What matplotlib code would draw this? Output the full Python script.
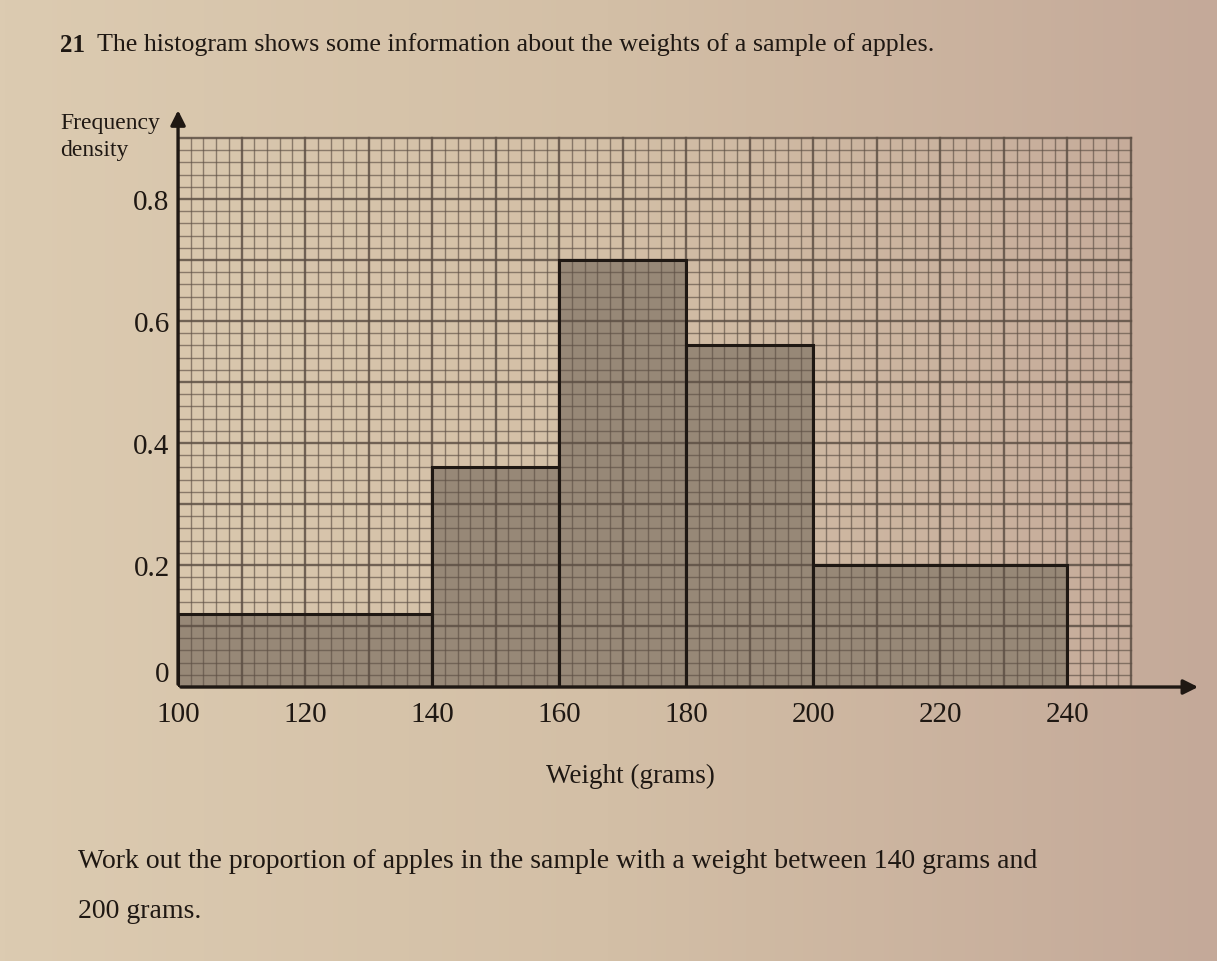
import matplotlib.pyplot as plt
import numpy as np
from matplotlib.colors import LinearSegmentedColormap

plt.rcParams["font.family"] = ["Liberation Serif", "DejaVu Serif"]

# histogram data: class boundaries (grams) and frequency density
bin_edges = [100, 140, 160, 180, 200, 240]
freq_density = [0.12, 0.36, 0.70, 0.56, 0.20]

x_ticks = [100, 120, 140, 160, 180, 200, 220, 240]
y_ticks = [0, 0.2, 0.4, 0.6, 0.8]
y_tick_labels = ["0", "0.2", "0.4", "0.6", "0.8"]

question = "The histogram shows some information about the weights of a sample of apples."
task_line1 = "Work out the proportion of apples in the sample with a weight between 140 grams and"
task_line2 = "200 grams."

ink = "#1f1813"

fig = plt.figure(figsize=(12.17, 9.62), dpi=100)

# paper background
bg = fig.add_axes([0, 0, 1, 1], zorder=-5)
paper = LinearSegmentedColormap.from_list("paper", ["#dccbb1", "#d3bfa6", "#c4a999"])
bg.imshow(np.linspace(0, 1, 256).reshape(1, -1), cmap=paper, aspect="auto", extent=[0, 1, 0, 1])
bg.set_axis_off()

ax = fig.add_axes([0.1463, 0.2848, 0.8457, 0.6088])
ax.set_facecolor("none")
ax.set_xlim(100, 262)
ax.set_ylim(0, 0.96)
for s in ax.spines.values():
    s.set_visible(False)

# bars (shading under the grid, outline on top)
lefts = bin_edges[:-1]
widths = np.diff(bin_edges)
ax.bar(lefts, freq_density, width=widths, align="edge", color="#978877", edgecolor="none", zorder=1)

# graph paper grid
grid_x = np.arange(100, 251, 2)
grid_y = np.round(np.arange(0, 0.901, 0.02), 2)
for gx in grid_x:
    major = gx % 10 == 0
    ax.plot([gx, gx], [0, 0.9], color="#5e5045", lw=1.7 if major else 1.0,
            alpha=0.85 if major else 0.65, zorder=2)
for gy in grid_y:
    major = round(gy * 100) % 10 == 0
    ax.plot([100, 250], [gy, gy], color="#5e5045", lw=1.7 if major else 1.0,
            alpha=0.85 if major else 0.65, zorder=2)

ax.bar(lefts, freq_density, width=widths, align="edge", fill=False, edgecolor=ink, lw=2.2, zorder=3)

# axes with arrows
ax.annotate("", xy=(261, 0), xytext=(100, 0),
            arrowprops=dict(arrowstyle="-|>", color=ink, lw=2.4, mutation_scale=22), zorder=4)
ax.annotate("", xy=(100, 0.95), xytext=(100, 0),
            arrowprops=dict(arrowstyle="-|>", color=ink, lw=2.4, mutation_scale=22), zorder=4)

ax.set_xticks(x_ticks, [str(t) for t in x_ticks])
ax.set_yticks(y_ticks, y_tick_labels)
ax.tick_params(length=0, labelsize=21, colors=ink)
ax.tick_params(axis="x", pad=10)
ax.tick_params(axis="y", pad=6)
# the "0" sits just above the x axis, clear of "100"
ax.get_yticklabels()[0].set_verticalalignment("bottom")

fig.text(60 / 1217, 1 - 137 / 962, "Frequency\ndensity", fontsize=17, color=ink,
         ha="left", va="center", linespacing=1.35)
fig.text(630 / 1217, 1 - 776 / 962, "Weight (grams)", fontsize=19.5, color=ink,
         ha="center", va="center")

fig.text(60 / 1217, 1 - 45 / 962, "21", fontsize=18, fontweight="bold", color=ink,
         ha="left", va="center")
fig.text(97 / 1217, 1 - 45 / 962, question, fontsize=18.7, color=ink, ha="left", va="center")
fig.text(78 / 1217, 1 - 862 / 962, task_line1, fontsize=20, color=ink, ha="left", va="center")
fig.text(78 / 1217, 1 - 912 / 962, task_line2, fontsize=20, color=ink, ha="left", va="center")

fig.savefig("out.png", dpi=100)
